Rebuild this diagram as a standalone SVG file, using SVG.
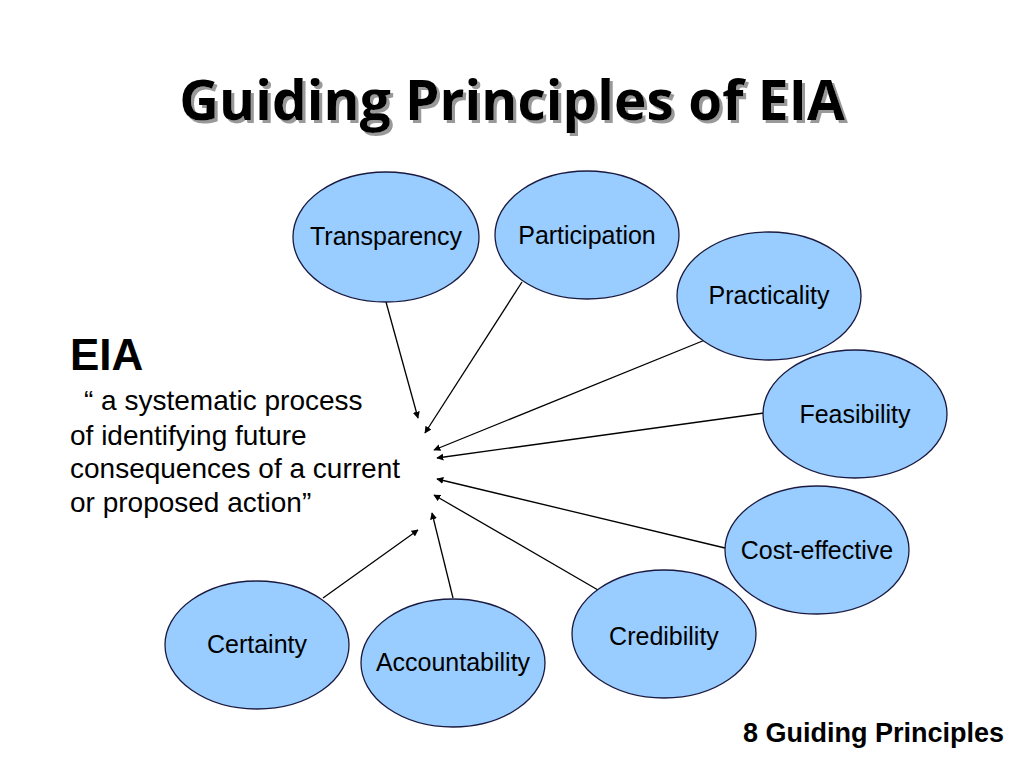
<svg xmlns="http://www.w3.org/2000/svg" width="1024" height="768" viewBox="0 0 1024 768">
<defs>
<style>
.n ellipse{fill:#99ccff;stroke:#1a1a40;stroke-width:1.3}
.n text{font-family:"Liberation Sans",Arial,sans-serif;font-size:25px;text-anchor:middle;fill:#000}
.c line{stroke:#000;stroke-width:1.3;marker-end:url(#a)}
.t{font-family:"Liberation Sans",Arial,sans-serif;fill:#000}
</style>
<filter id="sh" x="-5%" y="-20%" width="110%" height="140%"><feDropShadow dx="3" dy="3" stdDeviation="0.5" flood-color="#999" flood-opacity="1"/></filter>
<marker id="a" viewBox="0 0 10 10" refX="9" refY="5" markerWidth="7" markerHeight="7" orient="auto" markerUnits="userSpaceOnUse"><path d="M0,0L10,5L0,10z" fill="#000"/></marker>
</defs>
<rect width="1024" height="768" fill="#fff"/>
<text x="512" y="120" font-family="'Open Sans',sans-serif" font-weight="bold" font-size="55" text-anchor="middle" fill="#000" filter="url(#sh)">Guiding Principles of EIA</text>
<text class="t" x="70" y="370" font-size="44" font-weight="bold">EIA</text>
<text class="t" font-size="28"><tspan x="84" y="410">“ a systematic process</tspan><tspan x="70" y="445">of identifying future</tspan><tspan x="70" y="478">consequences of a current</tspan><tspan x="70" y="512">or proposed action”</tspan></text>
<text class="t" x="1004" y="742" font-size="27" font-weight="bold" text-anchor="end">8 Guiding Principles</text>
<g class="c">
<line x1="386" y1="302" x2="418" y2="418"/>
<line x1="522" y1="282" x2="425" y2="433"/>
<line x1="705" y1="340" x2="434" y2="450"/>
<line x1="764" y1="413" x2="437" y2="458"/>
<line x1="725" y1="548" x2="437" y2="479"/>
<line x1="598" y1="590" x2="434" y2="495"/>
<line x1="453" y1="598" x2="432" y2="513"/>
<line x1="323" y1="598" x2="418" y2="530"/>
</g>
<g id="transparency" class="n"><ellipse cx="386" cy="237" rx="93" ry="65"/><text x="386" y="245">Transparency</text></g>
<g id="participation" class="n"><ellipse cx="587" cy="235" rx="92" ry="64"/><text x="587" y="244">Participation</text></g>
<g id="practicality" class="n"><ellipse cx="769" cy="296" rx="92" ry="64"/><text x="769" y="304">Practicality</text></g>
<g id="feasibility" class="n"><ellipse cx="855" cy="414" rx="92" ry="64"/><text x="855" y="423">Feasibility</text></g>
<g id="cost-effective" class="n"><ellipse cx="817" cy="550" rx="92" ry="64"/><text x="817" y="559">Cost-effective</text></g>
<g id="credibility" class="n"><ellipse cx="664" cy="634" rx="92" ry="64"/><text x="664" y="645">Credibility</text></g>
<g id="accountability" class="n"><ellipse cx="453" cy="663" rx="92" ry="64"/><text x="453" y="671">Accountability</text></g>
<g id="certainty" class="n"><ellipse cx="257" cy="645" rx="92" ry="64"/><text x="257" y="653">Certainty</text></g>
</svg>
